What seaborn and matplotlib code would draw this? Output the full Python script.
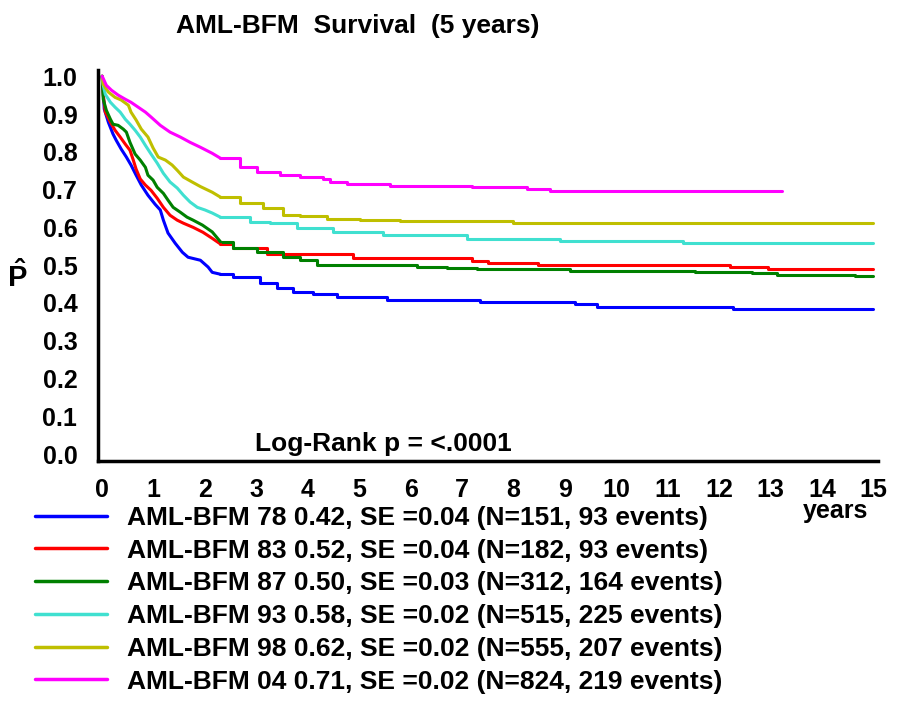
import matplotlib
matplotlib.use("Agg")
import matplotlib.pyplot as plt
import seaborn as sns
import pandas as pd

# Kaplan-Meier curves (time in years, survival probability)
t_78 = [0, 0.04, 0.12, 0.21, 0.27, 0.37, 0.47, 0.56, 0.66, 0.76, 0.89, 1.03, 1.13, 1.19, 1.28,
        1.42, 1.56, 1.67, 1.91, 2.06, 2.14, 2.30, 2.55, 3.07, 3.40, 3.72, 4.11, 4.57, 5.54,
        7.35, 9.20, 9.63, 12.28, 15.0]
s_78 = [1.0, 0.913, 0.878, 0.847, 0.831, 0.807, 0.786, 0.765, 0.738, 0.712, 0.685, 0.661, 0.646,
        0.619, 0.585, 0.558, 0.534, 0.521, 0.513, 0.495, 0.481, 0.476, 0.468, 0.452, 0.439,
        0.429, 0.423, 0.416, 0.409, 0.403, 0.397, 0.389, 0.383, 0.383]

t_83 = [0, 0.02, 0.06, 0.16, 0.25, 0.35, 0.45, 0.54, 0.60, 0.66, 0.74, 0.84, 0.95, 1.07, 1.19,
        1.32, 1.46, 1.58, 1.77, 1.96, 2.14, 2.30, 2.55, 3.21, 4.88, 7.20, 7.51, 8.48, 12.22,
        12.96, 15.0]
s_83 = [1.0, 0.95, 0.905, 0.878, 0.857, 0.839, 0.82, 0.804, 0.78, 0.754, 0.728, 0.712, 0.698,
        0.677, 0.653, 0.632, 0.619, 0.611, 0.60, 0.587, 0.571, 0.556, 0.545, 0.530, 0.518,
        0.512, 0.506, 0.500, 0.494, 0.489, 0.489]

t_87 = [0, 0.02, 0.08, 0.16, 0.21, 0.31, 0.41, 0.47, 0.54, 0.64, 0.74, 0.84, 0.89, 0.99, 1.07,
        1.19, 1.28, 1.38, 1.52, 1.65, 1.77, 1.95, 2.14, 2.30, 2.55, 3.02, 3.52, 3.85, 4.18,
        6.13, 6.71, 7.30, 9.11, 11.54, 12.65, 13.13, 14.65, 15.0]
s_87 = [1.0, 0.939, 0.91, 0.886, 0.873, 0.87, 0.86, 0.852, 0.825, 0.794, 0.778, 0.759, 0.738,
        0.725, 0.706, 0.69, 0.672, 0.653, 0.64, 0.627, 0.619, 0.606, 0.588, 0.562, 0.545,
        0.534, 0.521, 0.513, 0.50, 0.496, 0.493, 0.489, 0.485, 0.481, 0.478, 0.475, 0.472,
        0.472]

t_93 = [0, 0.02, 0.06, 0.16, 0.25, 0.35, 0.45, 0.54, 0.64, 0.74, 0.84, 0.95, 1.07, 1.19, 1.32,
        1.46, 1.58, 1.71, 1.85, 2.00, 2.14, 2.30, 2.88, 3.27, 3.79, 4.49, 5.47, 7.10, 8.91,
        11.30, 15.0]
s_93 = [1.0, 0.976, 0.952, 0.931, 0.918, 0.905, 0.886, 0.873, 0.857, 0.839, 0.817, 0.794, 0.77,
        0.743, 0.72, 0.704, 0.685, 0.667, 0.653, 0.646, 0.638, 0.627, 0.614, 0.611, 0.598,
        0.587, 0.579, 0.570, 0.563, 0.558, 0.558]

t_98 = [0, 0.02, 0.12, 0.25, 0.37, 0.51, 0.56, 0.66, 0.76, 0.89, 0.99, 1.09, 1.23, 1.36, 1.46,
        1.58, 1.75, 1.91, 2.14, 2.30, 2.68, 3.13, 3.52, 3.85, 4.38, 5.02, 5.80, 8.00, 15.0]
s_98 = [1.0, 0.979, 0.958, 0.944, 0.937, 0.923, 0.905, 0.884, 0.86, 0.839, 0.81, 0.786, 0.778,
        0.765, 0.751, 0.733, 0.72, 0.708, 0.693, 0.68, 0.664, 0.651, 0.634, 0.629, 0.622,
        0.619, 0.616, 0.611, 0.611]

t_04 = [0, 0.08, 0.18, 0.31, 0.45, 0.56, 0.70, 0.84, 0.95, 1.13, 1.32, 1.52, 1.71, 1.91, 2.14,
        2.30, 2.68, 3.02, 3.46, 3.85, 4.30, 4.44, 4.77, 5.60, 7.20, 8.27, 8.72, 13.23]
s_04 = [1.0, 0.976, 0.963, 0.95, 0.939, 0.931, 0.918, 0.905, 0.892, 0.87, 0.852, 0.839, 0.825,
        0.812, 0.796, 0.783, 0.759, 0.746, 0.738, 0.733, 0.727, 0.72, 0.714, 0.709, 0.706,
        0.702, 0.697, 0.697]

studies = ["78", "83", "87", "93", "98", "04"]
colors = ["#0000FF", "#FF0000", "#008000", "#40E0D0", "#BFBF00", "#FF00FF"]
legend_labels = [
    "AML-BFM 78 0.42, SE =0.04 (N=151, 93 events)",
    "AML-BFM 83 0.52, SE =0.04 (N=182, 93 events)",
    "AML-BFM 87 0.50, SE =0.03 (N=312, 164 events)",
    "AML-BFM 93 0.58, SE =0.02 (N=515, 225 events)",
    "AML-BFM 98 0.62, SE =0.02 (N=555, 207 events)",
    "AML-BFM 04 0.71, SE =0.02 (N=824, 219 events)",
]
x_ticks = list(range(0, 16))
y_ticks = [i / 10 for i in range(0, 11)]

# the first years hold many tiny steps: drawn as a traced line, later years as steps
dense_until = 2.30

times = [t_78, t_83, t_87, t_93, t_98, t_04]
surv = [s_78, s_83, s_87, s_93, s_98, s_04]
rows = []
for name, tt, ss in zip(studies, times, surv):
    for a, b in zip(tt, ss):
        rows.append({"study": name, "years": a, "p": b})
df = pd.DataFrame(rows)
early = df[df["years"] <= dense_until]
late = df[df["years"] >= dense_until]

sns.set_theme(style="white")
plt.rcParams["font.family"] = ["Liberation Sans", "DejaVu Sans"]
plt.rcParams["font.weight"] = "bold"
plt.rcParams["text.color"] = "black"
plt.rcParams["mathtext.fontset"] = "custom"
plt.rcParams["mathtext.bf"] = "Liberation Sans:bold"
plt.rcParams["mathtext.rm"] = "Liberation Sans:bold"

fig = plt.figure(figsize=(9, 7.16), dpi=100)
ax = fig.add_axes([0.109, 0.356, 0.867, 0.546])

sns.lineplot(data=late, x="years", y="p", hue="study", hue_order=studies,
             palette=colors, estimator=None, sort=False, legend=False,
             drawstyle="steps-post", linewidth=2.2, ax=ax)
sns.lineplot(data=early, x="years", y="p", hue="study", hue_order=studies,
             palette=colors, estimator=None, sort=False, legend=False,
             linewidth=2.2, ax=ax)

ax.set_xlim(-0.08, 15.1)
ax.set_ylim(-0.0185, 1.016)
ax.set_xticks(x_ticks)
ax.set_yticks(y_ticks)
ax.set_yticklabels([f"{v:.1f}" for v in y_ticks])
ax.set_xlabel("")
ax.set_ylabel("")
for side in ["top", "right"]:
    ax.spines[side].set_visible(False)
for side in ["left", "bottom"]:
    ax.spines[side].set_linewidth(2.5)
    ax.spines[side].set_color("black")
ax.tick_params(axis="both", direction="out", length=5, width=2, color="black",
               labelsize=18, labelcolor="black")
ax.tick_params(axis="y", pad=10)
ax.tick_params(axis="x", pad=7)
for lab in ax.get_xticklabels() + ax.get_yticklabels():
    lab.set_fontweight("bold")

ax.text(2.98, 0.008, "Log-Rank p = <.0001", fontsize=19, fontweight="bold",
        ha="left", va="baseline", color="black")
ax.text(14.9, -0.169, "years", fontsize=18, fontweight="bold", ha="right",
        va="baseline", color="black", clip_on=False)

fig.text(358 / 900, 1 - 26 / 716, "AML-BFM  Survival  (5 years)", fontsize=19,
         fontweight="bold", ha="center", va="center", color="black")
fig.text(17 / 900, 1 - 277 / 716, r"$\mathbf{\hat{P}}$", fontsize=21,
         ha="center", va="center", color="black")

handles = ax.lines[:6]
leg = fig.legend(handles, legend_labels, loc="upper left",
                 bbox_to_anchor=(35 / 900, 1 - 506 / 716), frameon=False,
                 borderpad=0, borderaxespad=0, handlelength=2.73, handletextpad=0.76,
                 labelspacing=0.33, prop={"size": 19, "weight": "bold"})
for line in leg.get_lines():
    line.set_linewidth(2.5)
for txt in leg.get_texts():
    txt.set_color("black")

fig.savefig("out.png", dpi=100)
